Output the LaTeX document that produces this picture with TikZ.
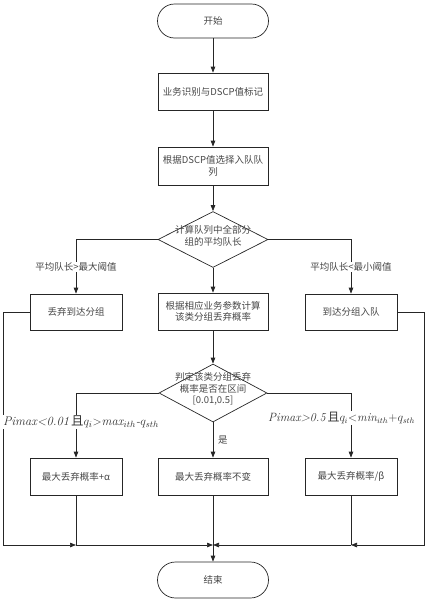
\documentclass[tikz,border=0pt]{standalone}
\usepackage{fontspec}
\newfontfamily\cjk{Noto Sans CJK SC}
\usetikzlibrary{shapes.geometric,arrows.meta}
\begin{document}
\begin{tikzpicture}[x=1pt,y=-1pt,
  every node/.style={font=\cjk\fontsize{9.5}{11.5}\selectfont, text=black!72},
  line/.style={draw=black!85, line width=0.7pt},
  arr/.style={line, -{Triangle[length=6pt,width=4.5pt]}},
  term/.style={draw=black!85, line width=0.7pt, rounded corners=17pt, minimum width=111pt, minimum height=34pt, inner sep=0pt},
  box/.style={draw=black!85, line width=0.7pt, minimum height=37pt, inner sep=0pt, align=center},
  dia/.style={draw=black!85, line width=0.7pt, diamond, inner sep=0pt, minimum width=110pt, minimum height=56pt},
  lbl/.style={fill=white, inner sep=1pt},
  mlbl/.style={fill=white, inner sep=1pt, font=\fontsize{12.5}{14}\selectfont, text=black!80}
]
\useasboundingbox (0,0) rectangle (427,600);

\node[term] (start) at (213,21) {开始};
\node[box, minimum width=110pt] (b1) at (213,91.5) {业务识别与DSCP值标记};
\node[box, minimum width=110pt, minimum height=38pt] (b2) at (213,166) {根据DSCP值选择入队队\\列};
\node[dia] (d1) at (213,239.5) {};
\node[align=center, inner sep=0pt] (d1t) at (213,236) {计算队列中全部分\\组的平均队长};

\node[box, minimum width=92pt, minimum height=36pt] (bl) at (76,312) {丢弃到达分组};
\node[box, minimum width=110pt] (bm) at (213,311.5) {根据相应业务参数计算\\该类分组丢弃概率};
\node[box, minimum width=92pt, minimum height=36pt] (br) at (351,312) {到达分组入队};

\node[dia, minimum width=108pt, minimum height=58pt] (d2) at (213,393) {};
\node[align=center, inner sep=0pt] (d2t) at (213,389) {判定该类分组丢弃\\概率是否在区间\\{}[0.01,0.5]};

\node[box, minimum width=92pt] (bl2) at (76,476.5) {最大丢弃概率+α};
\node[box, minimum width=110pt] (bm2) at (213,476.5) {最大丢弃概率不变};
\node[box, minimum width=92pt] (br2) at (351,476.5) {最大丢弃概率/β};

\node[term, minimum height=36pt, rounded corners=18pt] (end) at (213,580) {结束};

\coordinate (jl) at (76,545);
\coordinate (jm) at (213,545);
\coordinate (jr) at (351,545);
\coordinate (L) at (3,545);
\coordinate (R) at (424,545);

\draw[arr] (start) -- (b1);
\draw[arr] (b1) -- (b2);
\draw[arr] (b2) -- (d1.north);
\draw[arr] (d1.west) -| (bl.north);
\draw[arr] (d1.east) -| (br.north);
\draw[arr] (d1.south) -- (bm.north);
\draw[arr] (bm.south) -- (d2.north);
\draw[arr] (d2.west) -| (bl2.north);
\draw[arr] (d2.east) -| (br2.north);
\draw[arr] (d2.south) -- (bm2.north);
\draw[arr] (bm2.south) -- (end.north);
\draw[line] (bl2.south) -- (jl);
\draw[line] (br2.south) -- (jr);
\draw[arr] (jl) -- (jm);
\draw[arr] (jr) -- (jm);
\draw[arr] (bl.west) -| (L) -- (jl);
\draw[arr] (br.east) -| (R) -- (jr);

\node[lbl] (t1) at (76,267) {平均队长>最大阈值};
\node[lbl] (t2) at (351,267) {平均队长<最小阈值};
\node[mlbl, anchor=west] (t3) at (2,422) {\itshape Pimax<0.01\,{\upshape\cjk 且}$q_i{>}\mathit{max}_{ith}\mbox{-}q_{sth}$};
\node[mlbl, anchor=west, font=\fontsize{12}{14}\selectfont] (t4) at (267,418) {\itshape Pimax>0.5\,{\upshape\cjk 且}$q_i{<}\mathit{min}_{ith}{+}q_{sth}$};
\node[anchor=west, inner sep=0pt] (t5) at (218,440) {是};
\end{tikzpicture}
\end{document}
